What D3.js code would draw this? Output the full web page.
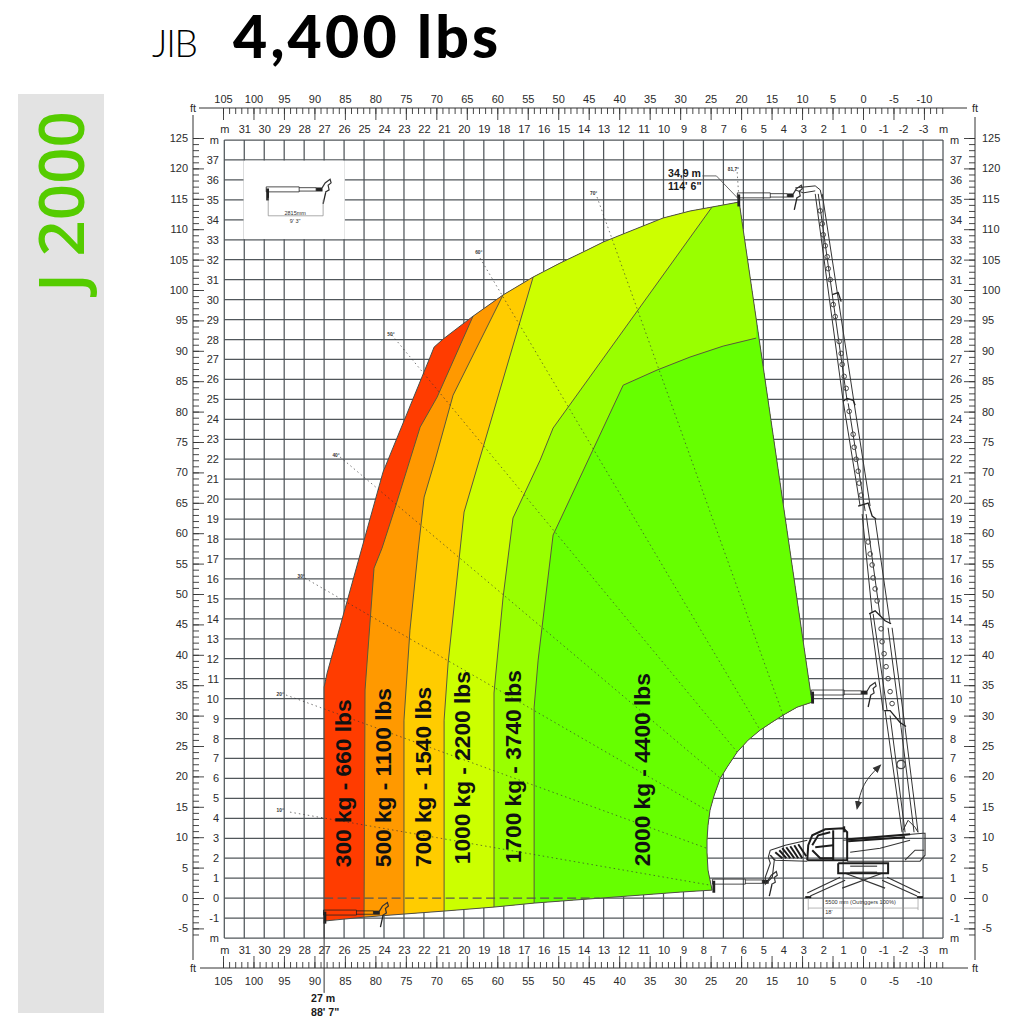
<!DOCTYPE html>
<html>
<head>
<meta charset="utf-8">
<title>J 2000 load chart</title>
<script src="https://d3js.org/d3.v7.min.js"></script>
<style>
	html, body { margin: 0; padding: 0; background: #fff; }
	svg { display: block; }
	text { font-family: "Liberation Sans", Arial, sans-serif; }
	.axis text { font-size: 11px; fill: #2b2b2b; }
	.axis line { stroke: #333; stroke-width: 0.9; }
	.axis path { display: none; }
</style>
</head>
<body>
<div id="chart"></div>
<script>
// axis values
const mTicksX = d3.range(32, -5, -1)
const mTicksY = d3.range(38, -3, -1)
const ftMajorX = d3.range(105, -15, -5)
const ftMinorX = d3.range(105, -14, -1)
const ftMajorY = d3.range(125, -10, -5)
const ftMinorY = d3.range(125, -7, -1)

// working envelope in metres: [reach, height]
const envelope = [[27, -1.15], [27, 10.58], [26.85, 11.28], [24.05, 21.35], [21.69, 27.12], [21.49, 27.62], [21.04, 28.02], [19.54, 29.17], [18.04, 30.23], [16.53, 31.13], [15.18, 31.83], [13.83, 32.48], [13.03, 32.88], [11.92, 33.33], [10.92, 33.73], [10.02, 34.09], [8.67, 34.44], [7.57, 34.64], [6.21, 34.89], [2.56, 9.82], [3.31, 9.57], [4.01, 9.17], [4.56, 8.82], [5.16, 8.42], [5.76, 7.92], [6.31, 7.32], [6.81, 6.57], [7.15, 6.02], [7.46, 5.16], [7.67, 4.41], [7.77, 3.66], [7.82, 2.91], [7.82, 2.26], [7.77, 1.4], [7.57, 0.4], [9.17, 0.3], [16.48, -0.25], [18.49, -0.45], [20.99, -0.65], [23, -0.8], [24.95, -0.95], [27, -1.15]]

// limits between the load zones, from the ground up
const limit500 = [[25, -0.95], [24.95, 10.43], [24.5, 16.54], [24.1, 17.54], [23.45, 19.55], [22.19, 23.61], [21.34, 25.11], [19.54, 29.17]]
const limit700 = [[23, -0.8], [23, 8.92], [22.7, 13.43], [22.29, 17.44], [21.99, 20.1], [21.44, 21.95], [20.54, 25.21], [18.04, 30.23]]
const limit1000 = [[20.99, -0.65], [20.99, 8.92], [20.79, 11.78], [19.99, 19.35], [16.53, 31.13]]
const limit1700 = [[18.49, -0.45], [18.49, 10.28], [18.04, 15.04], [17.54, 19.05], [16.18, 21.95], [15.53, 23.56], [7.57, 34.64]]
const limit2000 = [[16.48, -0.25], [16.48, 9.57], [16.28, 11.93], [15.53, 18.2], [12.02, 25.71], [10.32, 26.47], [8.67, 27.12], [7.01, 27.67], [5.36, 28.07]]
const zoneLimits = [limit500, limit700, limit1000, limit1700, limit2000]

const zoneColors = ['#ff3c00', '#ff9900', '#ffcc00', '#ccff00', '#99ff00', '#66ff00']
const zoneLabels = ['300 kg - 660 lbs', '500 kg - 1100 lbs', '700 kg - 1540 lbs', '1000 kg - 2200 lbs', '1700 kg - 3740 lbs', '2000 kg - 4400 lbs']
const zoneLabelX = [25.65, 23.65, 21.64, 19.69, 17.13, 10.67]
const zoneLabelY = [1.55, 1.55, 1.55, 1.7, 1.75, 1.6]

// boom angle rays
const angleNames = ['10°', '20°', '30°', '40°', '50°', '60°', '70°', '81,7°']
const angleFrom = [[28.71, 4.31], [28.91, 10.18], [27.96, 16.04], [26.2, 22.11], [23.6, 28.22], [19.19, 32.08], [13.33, 35.14], [6.31, 36.39]]
const angleTo = [[7.67, 0.65], [7.87, 2.51], [7.67, 4.31], [7.16, 6.02], [6.31, 7.32], [5.16, 8.42], [4.01, 9.17], [6.21, 34.89]]
const angleLabelAt = [[29.2, 4.3], [29.2, 10.15], [28.15, 16.05], [26.4, 22.1], [23.65, 28.2], [19.25, 32.3], [13.5, 35.25], [6.5, 36.45]]

// jib outline in metres from its left end, y going down
const jibPositions = [[29.9, 35.65], [6.3, 35.35], [2.6, 10.43], [7.55, 0.95], [27.03, -0.6]]
const jibBoxes = [[[0, 0], [1.65, 0], [1.65, 0.25], [0, 0.25], [0, 0]], [[1.65, 0.04], [2.5, 0.04], [2.5, 0.21], [1.65, 0.21]]]
const jibHook = [[2.8, 0.05], [2.95, -0.2], [3.2, -0.38], [3.25, -0.2], [3.1, -0.08], [3.15, 0.15], [2.95, 0.27]]
const jibHanger = [[2.98, 0.27], [2.85, 0.85]]
const jibBlocks = [[0, 0.08, 0.14, 0.6], [2.5, 0.03, 0.32, 0.2]]

// jib detail dimensions
const detailMarks = [[[29.8, 34.2], [27.05, 34.2]], [[29.8, 35.1], [29.8, 34.2]], [[27.05, 35], [27.05, 34.2]]]

// machine drawing in metres
const boomLines = [
	[[2.4, 35.3], [1, 24.9]], [[2.25, 35.3], [0.8, 24.9]], [[2.05, 35.3], [0.45, 24.8]],
	[[1, 24.9], [0.15, 19.65]], [[0.75, 24.8], [-0.1, 19.4]], [[0.45, 24.8], [-0.35, 19.65]],
	[[0.05, 19.25], [-0.45, 14.3]], [[-0.15, 19.25], [-0.85, 14.15]], [[-0.6, 19], [-1.35, 13.75]],
	[[-0.35, 14.25], [-1, 9.4]], [[-0.5, 14.25], [-1.2, 9.4]], [[-1.45, 13.55], [-2.1, 8.55]], [[-1.25, 13.55], [-1.9, 8.55]],
	[[-1.1, 9.4], [-1.95, 3.3]], [[-1.35, 9.15], [-2.1, 3.3]], [[-2.1, 8.55], [-2.75, 3.3]], [[-1.9, 8.55], [-2.55, 3.3]],
	[[3.4, 35.6], [2.4, 35.7], [2.15, 35.5], [2.05, 35.05]], [[3.4, 35.5], [3, 35.35], [2.4, 35.45]],
	[[-2, 3.4], [-2.25, 3.9], [-2.6, 3.55], [-2.75, 3.3]]
]
const boomCollars = [
	[[1.55, 30.25], [1.25, 30.35], [1.1, 29.9]],
	[[1, 24.9], [0.8, 25.05], [0.5, 24.95], [0.4, 24.7]],
	[[0.25, 19.65], [-0.25, 19.8], [-0.45, 19.15], [-0.65, 19]],
	[[-0.3, 14.25], [-0.6, 14.4], [-1.1, 13.9], [-1.4, 13.75]],
	[[-1.05, 9.4], [-1.35, 9.4], [-1.85, 8.8], [-2.15, 8.6]]
]
const boomHoles = [[2.15, 34.45], [2.05, 33.8], [2, 33.25], [1.9, 32.7], [1.8, 32.15], [1.75, 31.55], [1.65, 31], [1.5, 29.75], [1.4, 29.15], [1.2, 27.9], [1.1, 27.3], [1.05, 26.75], [0.95, 26.15], [0.85, 25.55], [0.7, 24.4], [0.5, 23.25], [0.45, 22.6], [0.35, 22], [0.25, 21.4], [0.2, 20.8], [0.1, 20.2], [-0.25, 17.85], [-0.35, 17.25], [-0.45, 16.7], [-0.5, 16.05], [-0.6, 15.5], [-0.7, 14.9], [-0.9, 13.5], [-0.95, 12.85], [-1.05, 12.25], [-1.15, 11.6], [-1.25, 11], [-1.35, 10.35], [-1.45, 9.75]]
const chassisThin = [
	[[0.8, 1.85], [-2.85, 1.85], [-3.1, 2.15], [-3.1, 3.25], [-3, 3.25]],
	[[1, 2.9], [-3, 3.25]],
	[[0.65, 2.3], [-0.85, 2.5], [-2.35, 2.9]],
	[[-2.1, 1.9], [-2.6, 2.4], [-3.05, 2.4]],
	[[4.65, 2.4], [3.9, 2.65], [2.8, 2.9]],
	[[4.65, 2.15], [4.4, 1.9], [2.8, 1.85]],
	[[4.65, 2.4], [4.75, 2.05]],
	[[4.65, 2.15], [4.45, 1.9], [4.55, 1.05], [4.9, 0.7], [4.9, 1.05], [4.65, 1.75], [4.75, 2.05]],
	[[0.65, 1.6], [-0.7, 1.6]], [[0.65, 1.3], [-0.7, 1.3]],
	[[1.15, 1.05], [2.8, 0.25]], [[0.9, 0.9], [2.65, 0.1]], [[-1.2, 1.05], [-2.85, 0.25]], [[-0.95, 0.9], [-2.7, 0.1]],
	[[0.9, 1.25], [-1.1, 0.5]], [[-0.95, 1.25], [1.05, 0.5]]
]
const chassisBold = [
	[[0.75, 2.95], [-2.35, 3.2]], [[0.75, 2.85], [-2.1, 3.05]],
	[[2.8, 1.9], [2.75, 2.65], [2.55, 3.15], [1.9, 3.45], [1, 3.5], [0.8, 3.3], [0.8, 1.9], [2.8, 1.9]],
	[[1.5, 3.4], [1.5, 1.9]], [[0.95, 3.6], [0.95, 3.3]],
	[[2.55, 2.65], [2.25, 3.15], [1.65, 3.3]], [[2.55, 2.4], [2.15, 2], [1.5, 2]], [[2.4, 2.55], [1.5, 2.65]],
	[[4.4, 2.3], [4.05, 2]], [[4.2, 2.4], [3.85, 2]], [[4.05, 2.5], [3.65, 2]], [[3.85, 2.55], [3.45, 2]], [[3.65, 2.6], [3.25, 2]], [[3.45, 2.65], [3.05, 2]], [[3.25, 2.7], [2.85, 2.1]],
	[[1.25, 1.75], [-1.25, 1.75], [-1.25, 1.25], [1.25, 1.25], [1.25, 1.75]],
	[[2.9, 0.05], [2.6, 0.05]], [[-2.7, 0.05], [-3, 0.05]]
]
const swingArrow = [[0.3, 4.5], [0.05, 5.75], [-0.85, 6.65]]
const outriggerMarks = [[[2.75, 0], [2.75, -0.6]], [[-2.75, 0], [-2.75, -0.6]], [[2.75, -0.5], [-2.75, -0.5]]]

const svg = d3.select('#chart').append('svg')
	.attr('width', 1024)
	.attr('height', 1024)

const x = d3.scaleLinear().domain([32, -4]).range([224.3, 943])
const y = d3.scaleLinear().domain([-2, 38]).range([938, 140])
const xFt = d3.scaleLinear().domain([105, 0]).range([223, 863])
const yFt = d3.scaleLinear().domain([125, 0]).range([138, 898])
const line = d3.line().x(d => x(d[0])).y(d => y(d[1]))
const UNIT = x(0) - x(1)

// side band and headings
svg.append('rect')
	.attr('x', 18).attr('y', 94)
	.attr('width', 86).attr('height', 919)
	.attr('fill', '#e3e3e3')
svg.append('text')
	.attr('transform', 'translate(83.5, 292) rotate(-90)')
	.attr('font-size', 63.5)
	.attr('font-weight', 600)
	.style('font-family', '"Open Sans"')
	.attr('fill', '#55cc00')
	.text('J 2000')
svg.append('text')
	.attr('x', 152).attr('y', 57)
	.attr('font-size', 37)
	.attr('font-weight', 300)
	.attr('letter-spacing', -1.2)
	.style('font-family', 'Lato')
	.text('JIB')
svg.append('text')
	.attr('x', 233).attr('y', 58)
	.attr('font-size', 59)
	.attr('font-weight', 900)
	.attr('letter-spacing', 3.2)
	.style('font-family', 'Lato')
	.text('4,400 lbs')

// grid
const grid = svg.append('g')
	.attr('stroke', '#50565a')
	.attr('stroke-width', 1.25)
grid.selectAll('.gx').data(mTicksX).enter().append('line')
	.attr('x1', d => x(d)).attr('x2', d => x(d))
	.attr('y1', y(38)).attr('y2', y(-2))
grid.selectAll('.gy').data(mTicksY).enter().append('line')
	.attr('x1', x(32)).attr('x2', x(-4))
	.attr('y1', d => y(d)).attr('y2', d => y(d))

// white panel for the jib detail
svg.append('rect')
	.attr('x', x(31) - 0.7).attr('y', y(37) + 0.7)
	.attr('width', x(26) - x(31) + 1.4).attr('height', y(33) - y(37) - 1.4)
	.attr('fill', '#fff')

// load zones, each one painted over the previous up to its limit
const clip = svg.append('clipPath').attr('id', 'envelope')
clip.append('path').attr('d', line(envelope))

const zonePolygons = [null].concat(zoneLimits).map(limit => {
	if (!limit) return [[32, -2], [32, 38], [-4, 38], [-4, -2]]
	const last = limit[limit.length - 1]
	return [[limit[0][0], -2]].concat(limit, [[last[0], 38], [-4, 38], [-4, -2]])
})

svg.append('g')
	.attr('clip-path', 'url(#envelope)')
	.selectAll('path')
	.data(zonePolygons)
	.enter().append('path')
		.attr('d', d => line(d) + 'Z')
		.attr('fill', (d, i) => zoneColors[i])

svg.append('g')
	.selectAll('path')
	.data(zoneLimits)
	.enter().append('path')
		.attr('d', line)
		.attr('fill', 'none')
		.attr('stroke', '#5a5a3a')
		.attr('stroke-width', 1)

svg.append('path')
	.attr('d', line(envelope))
	.attr('fill', 'none')
	.attr('stroke', '#4a4f4a')
	.attr('stroke-width', 1)

// ground line across the zones
svg.append('path')
	.attr('d', line([[27, 0], [13.2, 0]]))
	.attr('stroke', '#555')
	.attr('stroke-width', 1.1)
	.attr('stroke-dasharray', '9 4.5')

// angle rays
const rays = svg.append('g')
rays.selectAll('path')
	.data(angleFrom)
	.enter().append('path')
		.attr('d', (d, i) => line([d, angleTo[i]]))
		.attr('stroke', '#333')
		.attr('stroke-opacity', 0.65)
		.attr('stroke-width', 1)
		.attr('stroke-dasharray', '1.5 3')
rays.selectAll('text')
	.data(angleNames)
	.enter().append('text')
		.attr('x', (d, i) => x(angleLabelAt[i][0]))
		.attr('y', (d, i) => y(angleLabelAt[i][1]))
		.attr('text-anchor', 'middle')
		.attr('font-size', 4.8)
		.attr('font-weight', 'bold')
		.attr('fill', '#333')
		.text(d => d)

// zone captions
svg.append('g')
	.selectAll('text')
	.data(zoneLabels)
	.enter().append('text')
		.attr('transform', (d, i) => `translate(${x(zoneLabelX[i])}, ${y(zoneLabelY[i])}) rotate(-90)`)
		.attr('font-size', 22.7)
		.attr('font-weight', 'bold')
		.attr('fill', '#111')
		.text(d => d)

// axes
function addAxis(axis, tx, ty) {
	return svg.append('g')
		.attr('class', 'axis')
		.attr('transform', `translate(${tx}, ${ty})`)
		.call(axis)
}
const noLabel = () => ''
const mLabelX = d => (d === 32 || d === -4) ? 'm' : String(d)
const mLabelY = d => (d === 38 || d === -2) ? 'm' : String(d)
const ftLabel = d => String(d)

addAxis(d3.axisTop(xFt).tickValues(ftMinorX).tickSizeInner(-6).tickSizeOuter(0).tickFormat(noLabel), 0, 108)
addAxis(d3.axisTop(xFt).tickValues(ftMajorX).tickSizeInner(-12).tickSizeOuter(0).tickPadding(5).tickFormat(ftLabel), 0, 108)
addAxis(d3.axisBottom(xFt).tickValues(ftMinorX).tickSizeInner(-6).tickSizeOuter(0).tickFormat(noLabel), 0, 968)
addAxis(d3.axisBottom(xFt).tickValues(ftMajorX).tickSizeInner(-12).tickSizeOuter(0).tickPadding(9).tickFormat(ftLabel), 0, 968)
addAxis(d3.axisLeft(yFt).tickValues(ftMinorY).tickSizeInner(-6).tickSizeOuter(0).tickFormat(noLabel), 193, 0)
addAxis(d3.axisLeft(yFt).tickValues(ftMajorY).tickSizeInner(-11).tickSizeOuter(0).tickPadding(5).tickFormat(ftLabel), 193, 0)
addAxis(d3.axisRight(yFt).tickValues(ftMinorY).tickSizeInner(-6).tickSizeOuter(0).tickFormat(noLabel), 975, 0)
addAxis(d3.axisRight(yFt).tickValues(ftMajorY).tickSizeInner(-11).tickSizeOuter(0).tickPadding(7).tickFormat(ftLabel), 975, 0)

addAxis(d3.axisTop(x).tickValues(mTicksX).tickSize(0).tickPadding(0).tickFormat(mLabelX), 0, 133)
addAxis(d3.axisBottom(x).tickValues(mTicksX).tickSize(0).tickPadding(0).tickFormat(mLabelX), 0, 946)
addAxis(d3.axisLeft(y).tickValues(mTicksY).tickSize(0).tickPadding(0).tickFormat(mLabelY), 219, 0)
addAxis(d3.axisRight(y).tickValues(mTicksY).tickSize(0).tickPadding(0).tickFormat(mLabelY), 950, 0)

// axis rails and ft marks
const rails = svg.append('g').attr('stroke', '#333').attr('stroke-width', 1)
rails.append('line').attr('x1', 199).attr('x2', 967).attr('y1', 108).attr('y2', 108)
rails.append('line').attr('x1', 200).attr('x2', 968).attr('y1', 968).attr('y2', 968)
rails.append('line').attr('x1', 193).attr('x2', 193).attr('y1', 115).attr('y2', 960)
rails.append('line').attr('x1', 975).attr('x2', 975).attr('y1', 117).attr('y2', 960)
const ftMarks = svg.append('g').attr('font-size', 11).attr('fill', '#2b2b2b').attr('text-anchor', 'middle')
ftMarks.append('text').attr('x', 193).attr('y', 112).text('ft')
ftMarks.append('text').attr('x', 975).attr('y', 112).text('ft')
ftMarks.append('text').attr('x', 193).attr('y', 972).text('ft')
ftMarks.append('text').attr('x', 975).attr('y', 972).text('ft')

// jibs
const jibs = svg.append('g')
	.selectAll('g')
	.data(jibPositions)
	.enter().append('g')
		.attr('transform', d => `translate(${x(d[0])}, ${y(d[1])})`)
const jibLine = d3.line().x(d => d[0] * UNIT).y(d => d[1] * UNIT)
jibBoxes.forEach(box => {
	jibs.append('path').attr('d', jibLine(box)).attr('fill', 'none').attr('stroke', '#222').attr('stroke-width', 0.8)
})
jibs.append('path').attr('d', jibLine(jibHook)).attr('fill', 'none').attr('stroke', '#333').attr('stroke-width', 1.2)
jibs.append('path').attr('d', jibLine(jibHanger)).attr('fill', 'none').attr('stroke', '#222').attr('stroke-width', 1.3)
jibBlocks.forEach(b => {
	jibs.append('rect')
		.attr('x', b[0] * UNIT).attr('y', b[1] * UNIT)
		.attr('width', b[2] * UNIT).attr('height', b[3] * UNIT)
		.attr('fill', '#222')
})

const detail = svg.append('g')
detail.selectAll('path').data(detailMarks).enter().append('path')
	.attr('d', line).attr('stroke', '#888').attr('stroke-width', 0.7)
detail.append('text').attr('x', x(28.45)).attr('y', y(34.26)).attr('text-anchor', 'middle').attr('font-size', 5.5).attr('fill', '#333').text('2815mm')
detail.append('text').attr('x', x(28.45)).attr('y', y(33.83)).attr('text-anchor', 'middle').attr('font-size', 5.5).attr('fill', '#333').text('9\' 3"')

// machine
const machine = svg.append('g').attr('fill', 'none')
machine.selectAll('.boom').data(boomLines).enter().append('path')
	.attr('d', line).attr('stroke', '#333').attr('stroke-width', 1)
machine.selectAll('.collar').data(boomCollars).enter().append('path')
	.attr('d', line).attr('stroke', '#222').attr('stroke-width', 1.3)
machine.selectAll('.hole').data(boomHoles).enter().append('circle')
	.attr('cx', d => x(d[0])).attr('cy', d => y(d[1]))
	.attr('r', 2.3).attr('stroke', '#444').attr('stroke-width', 1)
machine.append('circle').attr('cx', x(-1.9)).attr('cy', y(6.7)).attr('r', 4.2).attr('stroke', '#444').attr('stroke-width', 1.4)
machine.selectAll('.thin').data(chassisThin).enter().append('path')
	.attr('d', line).attr('stroke', '#333').attr('stroke-width', 1.1)
machine.selectAll('.bold').data(chassisBold).enter().append('path')
	.attr('d', line).attr('stroke', '#1c1c1c').attr('stroke-width', 2)
machine.selectAll('.mark').data(outriggerMarks).enter().append('path')
	.attr('d', line).attr('stroke', '#999').attr('stroke-width', 0.7)

svg.append('defs').append('marker')
	.attr('id', 'head')
	.attr('viewBox', '0 0 10 10')
	.attr('refX', 8).attr('refY', 5)
	.attr('markerWidth', 9).attr('markerHeight', 9)
	.attr('orient', 'auto-start-reverse')
	.append('path').attr('d', 'M0 1 L10 5 L0 9 Z').attr('fill', '#333')
machine.append('path')
	.attr('d', d3.line().x(d => x(d[0])).y(d => y(d[1])).curve(d3.curveBasis)(swingArrow))
	.attr('stroke', '#333').attr('stroke-width', 1)
	.attr('marker-start', 'url(#head)').attr('marker-end', 'url(#head)')

const notes = svg.append('g').attr('fill', '#333')
notes.append('text').attr('x', x(1.9)).attr('y', y(-0.28)).attr('font-size', 5.6).text('5500 mm (Outriggers 100%)')
notes.append('text').attr('x', x(1.9)).attr('y', y(-0.78)).attr('font-size', 5.6).text('18\'')

// reach and height call-outs
const callout = svg.append('g').attr('font-size', 10.6).attr('font-weight', 'bold').attr('fill', '#1a1a1a')
callout.append('text').attr('x', 668).attr('y', 177).text('34,9 m')
callout.append('text').attr('x', 668).attr('y', 190).text('114\' 6"')
callout.append('text').attr('x', 311).attr('y', 1002).text('27 m')
callout.append('text').attr('x', 311).attr('y', 1016).text('88\' 7"')
svg.append('path')
	.attr('d', line([[8.05, 36.2], [7.35, 36.2], [6.25, 35.05]]))
	.attr('fill', 'none').attr('stroke', '#444').attr('stroke-width', 0.8)
svg.append('path')
	.attr('d', line([[27, -1.15], [27, -4.75]]))
	.attr('stroke', '#333').attr('stroke-width', 1)
</script>
</body>
</html>
